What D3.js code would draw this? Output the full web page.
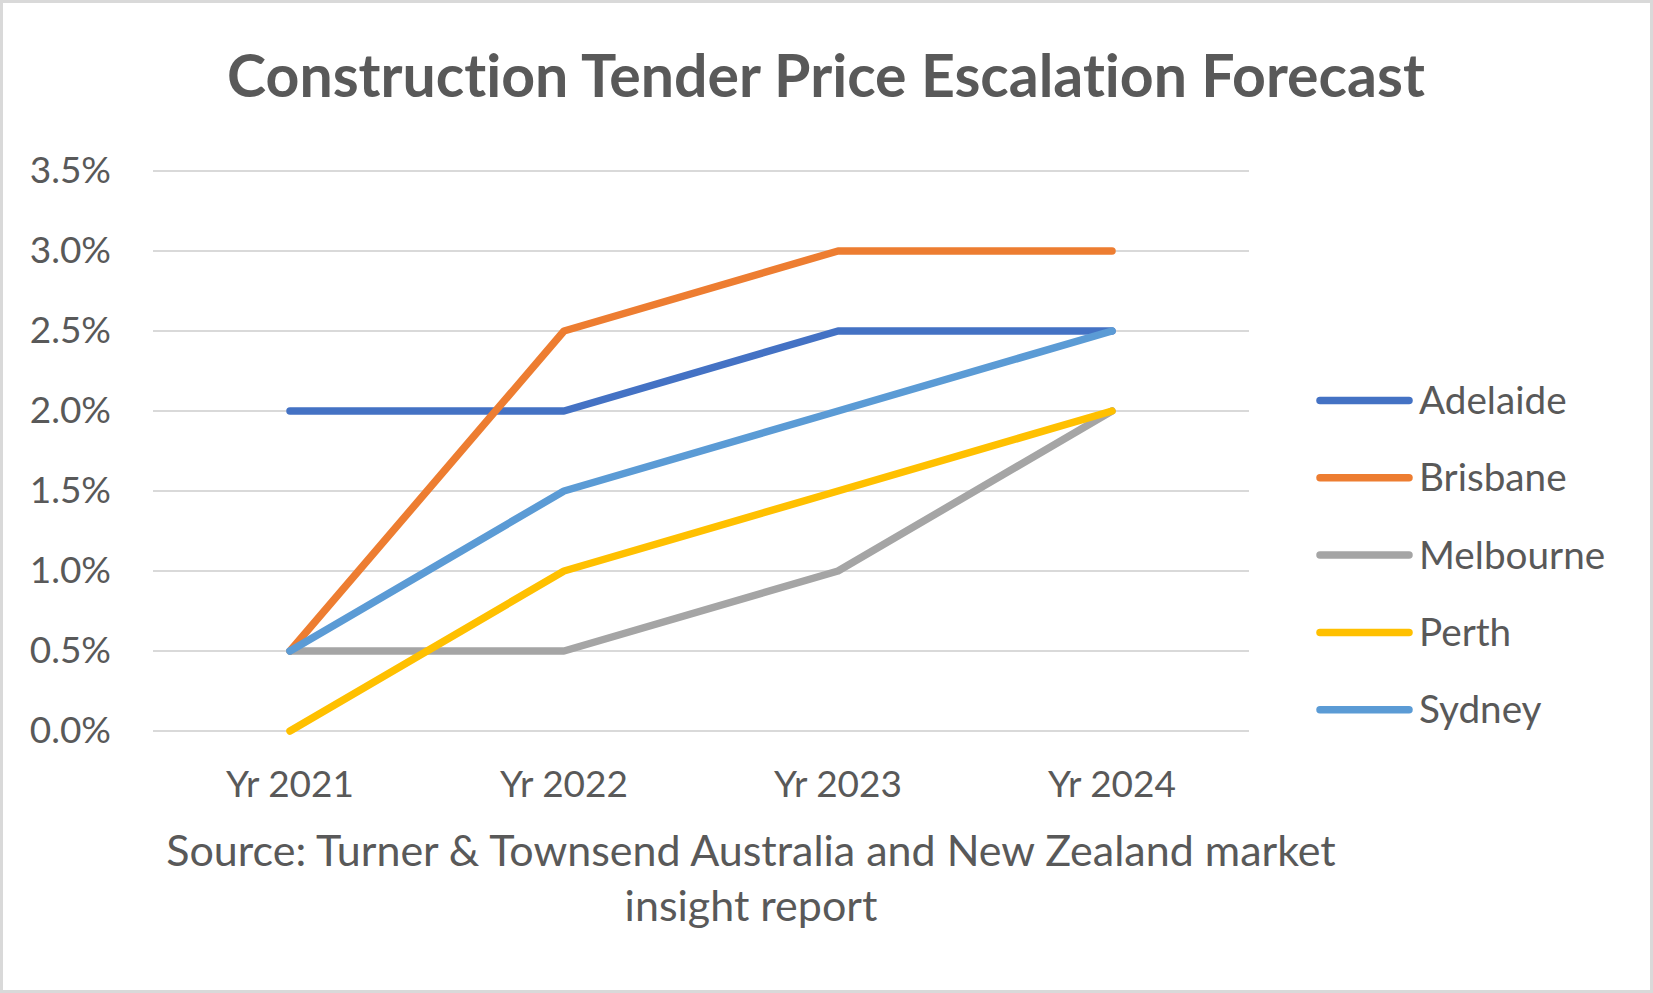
<!DOCTYPE html>
<html>
<head>
<meta charset="utf-8">
<script src="https://cdn.jsdelivr.net/npm/d3@7"></script>
<style>
  body { margin: 0; background: #fff; }
  text { font-family: Lato, "Open Sans", sans-serif; fill: #595959; font-variant-ligatures: none; }
</style>
</head>
<body>
<div id="chart"></div>
<script>
// data
var years = ["Yr 2021", "Yr 2022", "Yr 2023", "Yr 2024"];
var cities = ["Adelaide", "Brisbane", "Melbourne", "Perth", "Sydney"];
var adelaide = [2.0, 2.0, 2.5, 2.5];
var brisbane = [0.5, 2.5, 3.0, 3.0];
var melbourne = [0.5, 0.5, 1.0, 2.0];
var perth = [0.0, 1.0, 1.5, 2.0];
var sydney = [0.5, 1.5, 2.0, 2.5];
var yTicks = [0, 0.5, 1.0, 1.5, 2.0, 2.5, 3.0, 3.5];
var colors = ["#4472C4", "#ED7D31", "#A5A5A5", "#FFC000", "#5B9BD5"];

var series = [adelaide, brisbane, melbourne, perth, sydney];

var width = 1653, height = 993;
var margin = {top: 171, right: 404, bottom: 262, left: 153};

var svg = d3.select("#chart")
  .append("svg")
    .attr("width", width)
    .attr("height", height);

// outer frame
svg.append("rect")
  .attr("x", 1.5).attr("y", 1.5)
  .attr("width", width - 3).attr("height", height - 3)
  .attr("fill", "#fff")
  .attr("stroke", "#d9d9d9")
  .attr("stroke-width", 3);

// title
svg.append("text")
  .attr("x", 826)
  .attr("y", 97)
  .attr("text-anchor", "middle")
  .style("font-weight", "bold")
  .style("font-size", "59px")
  .text("Construction Tender Price Escalation Forecast");

var x = d3.scaleBand()
  .domain(years)
  .range([margin.left, width - margin.right]);

var y = d3.scaleLinear()
  .domain([0, 3.5])
  .range([height - margin.bottom, margin.top]);

// gridlines
svg.append("g")
  .selectAll("line")
  .data(yTicks)
  .enter().append("line")
    .attr("x1", margin.left)
    .attr("x2", width - margin.right)
    .attr("y1", function(d) { return y(d); })
    .attr("y2", function(d) { return y(d); })
    .attr("stroke", "#d9d9d9")
    .attr("stroke-width", 2.2);

// y axis labels
var yAxis = svg.append("g")
  .attr("transform", "translate(111,0)")
  .call(d3.axisLeft(y).tickValues(yTicks).tickSize(0).tickPadding(0)
    .tickFormat(function(d) { return d.toFixed(1) + "%"; }));
yAxis.select(".domain").remove();
yAxis.selectAll("text")
  .attr("fill", null)
  .style("font-family", null)
  .style("font-size", "37px");

// x axis labels
var xAxis = svg.append("g")
  .attr("transform", "translate(0," + (height - margin.bottom) + ")")
  .call(d3.axisBottom(x).tickSize(0).tickPadding(40));
xAxis.select(".domain").remove();
xAxis.selectAll("text")
  .attr("fill", null)
  .style("font-family", null)
  .style("font-size", "37px");

// lines
var line = d3.line()
  .x(function(d, i) { return x(years[i]) + x.bandwidth() / 2; })
  .y(function(d) { return y(d); });

svg.append("g")
  .selectAll("path")
  .data(series)
  .enter().append("path")
    .attr("d", line)
    .attr("fill", "none")
    .attr("stroke", function(d, i) { return colors[i]; })
    .attr("stroke-width", 7.5)
    .attr("stroke-linecap", "round")
    .attr("stroke-linejoin", "round");

// legend
var legend = svg.append("g")
  .selectAll("g")
  .data(cities)
  .enter().append("g")
    .attr("transform", function(d, i) { return "translate(1320," + (400.5 + i * 77.3) + ")"; });

legend.append("line")
  .attr("x1", 0).attr("x2", 89)
  .attr("stroke", function(d, i) { return colors[i]; })
  .attr("stroke-width", 7.5)
  .attr("stroke-linecap", "round");

legend.append("text")
  .attr("x", 99)
  .attr("dy", "0.35em")
  .style("font-size", "38.7px")
  .text(function(d) { return d; });

// source note
var source = svg.append("text")
  .attr("x", 751)
  .attr("text-anchor", "middle")
  .style("font-size", "43px");
source.append("tspan").attr("x", 751).attr("y", 866)
  .text("Source: Turner & Townsend Australia and New Zealand market");
source.append("tspan").attr("x", 751).attr("y", 921)
  .text("insight report");
</script>
</body>
</html>
